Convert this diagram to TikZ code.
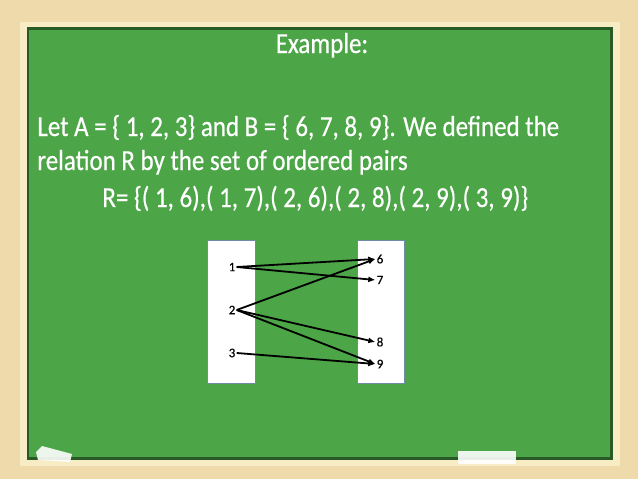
\documentclass[tikz,border=0pt]{standalone}
\usepackage{fontspec}
\setmainfont{Carlito}
\newfontfamily\boardfont{Carlito}[FakeStretch=0.86,FakeBold=0.5]
\newfontfamily\elemfont{Carlito}[FakeBold=0.6]
\usetikzlibrary{arrows.meta}
\definecolor{frametan}{RGB}{238,218,170}
\definecolor{framelight}{RGB}{247,236,196}
\definecolor{boardgreen}{RGB}{76,165,70}
\definecolor{boarddark}{RGB}{40,90,40}
\definecolor{boxedge}{RGB}{110,140,170}
\begin{document}
\begin{tikzpicture}[x=1pt, y=-1pt, thick, set box/.style={draw=boxedge, fill=white, line width=.8pt}, elem/.style={font=\elemfont\fontsize{13}{13}\selectfont, inner sep=1pt}, board text/.style={text=white, font=\boardfont\fontsize{29}{29}\selectfont, inner sep=0pt}]
\useasboundingbox (0,0) rectangle (638,479);
% frame and board
\fill[frametan] (0,0) rectangle (638,479);
\fill[framelight] (20,22) rectangle (620,466);
\fill[boarddark] (27,27) rectangle (613,460);
\fill[boardgreen] (29,30) rectangle (610,457);
\fill[white, opacity=.9] (36,452) -- (42,446) -- (72,454) -- (70,462) -- (38,460) -- cycle;
\fill[white, opacity=.9] (458,451) rectangle (516,464);
\begin{scope}[every node/.style={board text}]
\node[anchor=base] (title) at (322,53) {Example:};
\node[anchor=base west] (line1) at (37,136) {Let A = \{ 1, 2, 3\} and B = \{ 6, 7, 8, 9\}. We defined the};
\node[anchor=base west] (line2) at (37,170) {relation R by the set of ordered pairs};
\node[anchor=base west] (line3) at (102,207) {R= \{( 1, 6),( 1, 7),( 2, 6),( 2, 8),( 2, 9),( 3, 9)\}};
\end{scope}
% the two sets
\draw[set box] (207,240) rectangle (255,383);
\draw[set box] (357,240) rectangle (404,383);
\begin{scope}[every node/.style={elem}]
\node (a1) at (232,267) {1};
\node (a2) at (232,310) {2};
\node (a3) at (232,353) {3};
\node (b6) at (380,259) {6};
\node (b7) at (380,280) {7};
\node (b8) at (380,342) {8};
\node (b9) at (380,364) {9};
\end{scope}
\begin{scope}[-{Latex[length=7pt,width=6pt]}, line width=1.8pt]
\draw (a1.east) -- (b6.west);
\draw (a1.east) -- (b7.west);
\draw (a2.east) -- (b6.west);
\draw (a2.east) -- (b8.west);
\draw (a2.east) -- (b9.west);
\draw (a3.east) -- (b9.west);
\end{scope}
\end{tikzpicture}
\end{document}
